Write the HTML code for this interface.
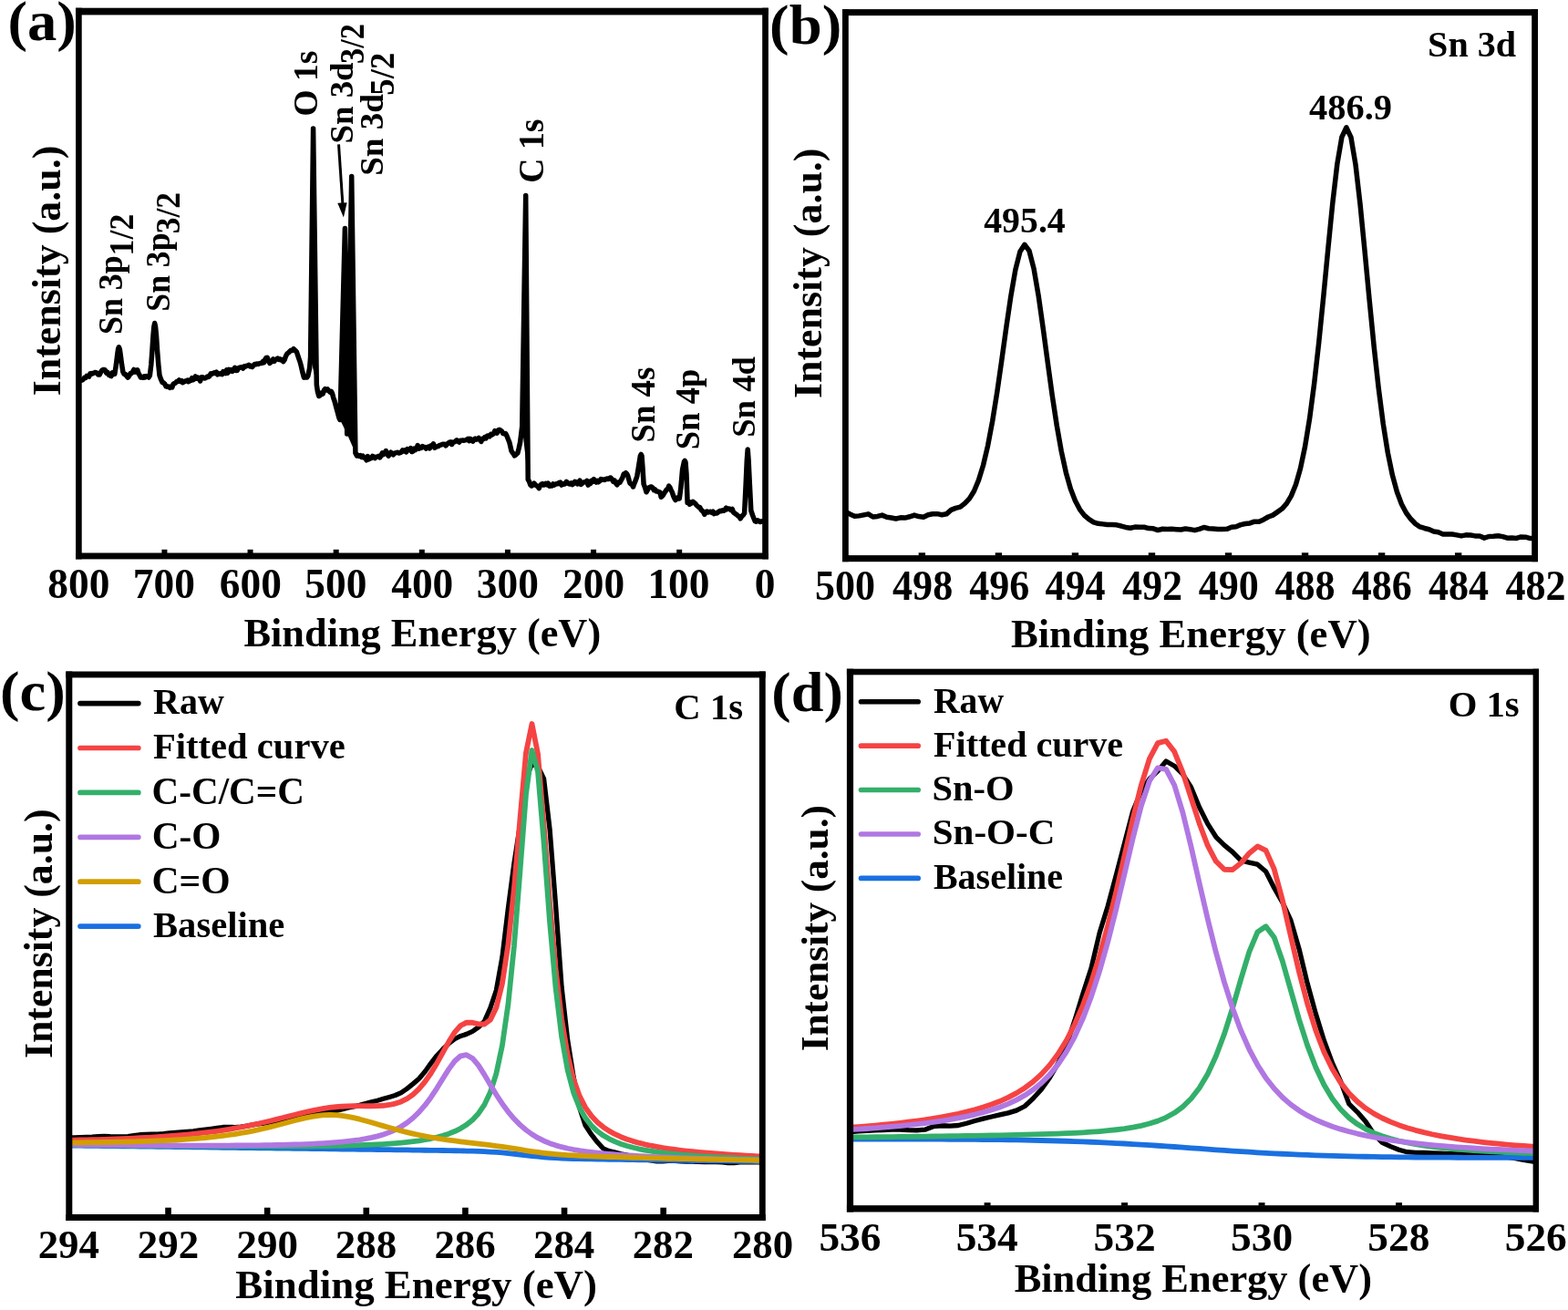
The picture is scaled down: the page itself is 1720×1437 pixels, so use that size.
<!DOCTYPE html><html><head><meta charset="utf-8"><title>XPS spectra</title><style>html,body{margin:0;padding:0;background:#fff;overflow:hidden}svg{display:block}</style></head><body><svg width="1720" height="1437" viewBox="0 0 1720 1437"><rect width="1720" height="1437" fill="#fff"/><path d="M89.5,417.1 L90.65,416.82 L91.8,415.46 L92.95,414.04 L94.1,414.5 L95.3,412.36 L96.5,412.57 L97.7,413.04 L98.9,409.93 L100.1,409.5 L101.25,409.88 L102.4,409.43 L103.55,408.82 L104.7,408.4 L106.2,409.23 L107.7,411 L109.2,411 L110.7,408.05 L112.2,405.8 L113.7,405.41 L115.2,405.89 L116.7,409.2 L118.03,408.5 L119.35,411.23 L120.67,411.94 L122,412.6 L123.27,408.72 L124.53,410.4 L125.8,410.3 L127.4,400 L128.6,390 L129.6,383 L130.4,380.8 L131.3,383 L132.3,390 L133.6,400 L134.9,408 L136.22,410.42 L137.55,410.46 L138.88,412.46 L140.2,414.1 L141.52,412.64 L142.85,409.81 L144.18,409.6 L145.5,408 L146.82,405.45 L148.15,408.01 L149.48,406.5 L150.8,405.8 L152.03,409.76 L153.27,411.79 L154.5,414.1 L155.72,413.9 L156.94,414.27 L158.16,412.95 L159.38,413.81 L160.6,412.6 L161.87,413.22 L163.13,413.99 L164.4,411.8 L165.8,400 L166.9,385 L168,368 L168.9,358 L169.7,354.5 L170.5,358 L171.5,368 L172.6,385 L173.8,400 L175,411.8 L176.5,415.94 L178,419.4 L179.38,419.85 L180.77,421.28 L182.15,423.9 L183.53,424.22 L184.92,424.01 L186.3,425.4 L187.55,423.99 L188.8,424.84 L190.05,421.52 L191.3,420.53 L192.55,420.13 L193.8,418.6 L195.12,418.25 L196.45,416.92 L197.78,418.32 L199.1,417.65 L200.43,419.74 L201.75,418.96 L203.08,417.95 L204.4,417.9 L205.64,417.15 L206.89,418.7 L208.13,416.99 L209.37,417.48 L210.61,414.68 L211.86,416.56 L213.1,415.8 L214.41,412.89 L215.72,415.05 L217.03,414.08 L218.34,415.34 L219.65,417.97 L220.96,413.66 L222.27,413.77 L223.58,414.72 L224.89,414.93 L226.2,414.1 L227.44,413.09 L228.69,413.45 L229.93,412.47 L231.17,409.79 L232.41,410.22 L233.66,409.6 L234.9,408.8 L236.14,409.4 L237.39,408.17 L238.63,410.87 L239.87,410.09 L241.11,410.21 L242.36,409.55 L243.6,410.6 L244.84,407.51 L246.09,408.13 L247.33,409.57 L248.57,405.84 L249.81,409.2 L251.06,405.33 L252.3,407.1 L253.61,405.55 L254.92,407.24 L256.23,405.95 L257.54,403.32 L258.85,406.54 L260.16,406.35 L261.47,403.93 L262.78,403.22 L264.09,402.93 L265.4,402.7 L266.64,404.07 L267.89,401.74 L269.13,402.29 L270.37,401.17 L271.61,401.29 L272.86,400.29 L274.1,401.9 L275.41,401.35 L276.72,402.48 L278.03,400.87 L279.34,399.58 L280.65,399.72 L281.96,399.06 L283.27,399.46 L284.58,398.6 L285.89,398.35 L287.2,398.4 L288.42,396.31 L289.64,397.75 L290.86,394.02 L292.08,392.38 L293.3,392.3 L294.6,396.15 L295.9,398.4 L297.14,397.39 L298.39,396.1 L299.63,393.95 L300.87,396.28 L302.11,394.59 L303.36,393.95 L304.6,393.1 L305.82,394.37 L307.04,393.83 L308.26,395.02 L309.48,394.52 L310.7,396.6 L312.17,394.61 L313.63,390.45 L315.1,387.9 L316.5,386.82 L317.9,385.3 L319.3,384.18 L320.7,384.49 L322.1,382.7 L323.23,383.71 L324.37,385.06 L325.5,386.2 L326.67,389.95 L327.83,393.29 L329,396.6 L330.47,402.06 L331.93,408.53 L333.4,414.1 L334.5,413.86 L335.6,414 L336.7,414.07 L337.8,412.3 L339.6,404 L340.6,391.7 L343.6,141 L347.3,422 L348.5,430 L349.8,434.5 L351.4,433.66 L353,431 L354.23,432.05 L355.45,428.04 L356.67,426.6 L357.9,427.9 L359.27,426.9 L360.65,428.58 L362.02,430.07 L363.4,429.3 L364.6,431.98 L365.8,436.54 L367,440 L368.2,444.43 L369.4,449.01 L370.6,453.24 L371.8,458 L373,460.5 L373,460.5 L378.4,250.5 L380.7,476 L385.7,193.5 L389.9,497 L391.5,500 L392.75,499.37 L394,500.5 L395.33,499.58 L396.67,501.29 L398,500.25 L399.33,502.04 L400.67,502.29 L402,504.81 L403.33,500.51 L404.67,503.82 L406,502.9 L407.33,502.56 L408.67,500.33 L410,501.32 L411.33,502.6 L412.67,501.18 L414,501.07 L415.33,500.26 L416.67,501.86 L418,500 L419.34,496.78 L420.69,498.52 L422.03,496.54 L423.38,494.55 L424.72,497.9 L426.07,500.11 L427.41,498.12 L428.76,496.21 L430.1,497.5 L431.39,498.76 L432.68,497.21 L433.97,496.81 L435.26,496.43 L436.55,496.3 L437.84,497.08 L439.13,496.49 L440.42,495.79 L441.71,493.86 L443,495 L444.26,493.83 L445.53,495.95 L446.79,492.54 L448.05,493.8 L449.32,493.72 L450.58,491.7 L451.85,495.52 L453.11,494.92 L454.37,492.09 L455.64,493.49 L456.9,492.2 L458.21,488.48 L459.52,492.1 L460.83,491.46 L462.14,491.43 L463.45,489.66 L464.76,490.52 L466.07,490.42 L467.38,492.03 L468.69,490.67 L470,490 L471.36,491.86 L472.72,488.87 L474.08,488.91 L475.44,486.8 L476.8,491.16 L478.16,490.16 L479.52,489.9 L480.88,489.38 L482.24,488.44 L483.6,488.1 L484.94,487.45 L486.28,487.21 L487.62,487.24 L488.96,488.87 L490.3,487.29 L491.64,486.16 L492.98,485.16 L494.32,484.77 L495.66,487.45 L497,485 L498.34,484.87 L499.68,484.1 L501.02,482.85 L502.36,484.03 L503.7,485.07 L505.04,483.15 L506.38,483.16 L507.72,482.94 L509.06,483.17 L510.4,482.8 L511.77,482.37 L513.14,481.42 L514.51,483.65 L515.89,481.3 L517.26,483.01 L518.63,484.17 L520,482 L521.3,481.13 L522.6,482.13 L523.9,481.81 L525.2,480.41 L526.5,482.31 L527.8,484.34 L529.1,481.21 L530.4,481.5 L531.74,479.6 L533.08,480.83 L534.42,478.26 L535.76,477.9 L537.1,478.8 L538.52,476.32 L539.95,476.88 L541.38,475.82 L542.8,472.7 L544.04,473.3 L545.28,475.05 L546.52,472.02 L547.76,471.34 L549,472 L550.4,472.93 L551.8,475.57 L553.2,475.81 L554.6,475.5 L556,478.24 L557.4,481.67 L558.8,485.2 L559.85,489.7 L560.9,494.3 L562.07,496.38 L563.23,497.72 L564.4,499.8 L565.53,499.14 L566.67,497.9 L567.8,497.1 L569.2,491.61 L570.6,485.2 L571.65,476.5 L572.7,467.8 L576.7,214.5 L579.2,526 L580.5,528.12 L581.8,531.9 L583.18,533.03 L584.56,532.06 L585.94,530.14 L587.32,532.12 L588.7,532.8 L589.96,533.55 L591.21,535.62 L592.47,532.76 L593.72,531.31 L594.98,530.67 L596.23,532.06 L597.49,531.78 L598.74,530.36 L600,531.8 L601.33,530.18 L602.67,533.17 L604,533.03 L605.33,533 L606.67,530.83 L608,532.09 L609.33,531.16 L610.67,530.74 L612,530.74 L613.33,529.38 L614.67,529.12 L616,532.07 L617.33,530.68 L618.67,531.16 L620,530.8 L621.33,528.36 L622.67,529.54 L624,530.74 L625.33,530.93 L626.67,529.79 L628,531.59 L629.33,530.38 L630.67,528.36 L632,528.65 L633.33,530.89 L634.67,530.33 L636,527.04 L637.33,531.32 L638.67,530.21 L640,529.3 L641.27,528.63 L642.53,528.6 L643.8,527.33 L645.07,532.11 L646.33,528.31 L647.6,530.54 L648.87,527.38 L650.13,528.32 L651.4,525.7 L652.67,527.28 L653.93,528.97 L655.2,527.5 L656.53,528.78 L657.87,527.62 L659.2,525.6 L660.53,526.16 L661.87,526.05 L663.2,526.43 L664.53,525.61 L665.87,525.05 L667.2,525.59 L668.53,524.45 L669.87,523.93 L671.2,525.5 L672.65,528 L674.1,527.06 L675.55,530.23 L677,531.8 L678.47,529.11 L679.93,529.26 L681.4,526.7 L682.8,524.18 L684.2,520 L685.35,519.83 L686.5,518.7 L687.6,519.7 L688.7,522 L689.75,525.75 L690.8,529.6 L692.03,531.02 L693.27,531.45 L694.5,534 L695.93,530.12 L697.37,526.65 L698.8,522.3 L699.8,516.14 L700.8,510 L702.4,500 L703.2,498.5 L704,500 L704.9,512 L706.1,531 L707.55,534.78 L709,539.8 L710.47,537.17 L711.93,534.87 L713.4,534 L714.72,534.05 L716.04,535.15 L717.36,537.69 L718.68,537.11 L720,539 L721.3,538.88 L722.6,539.62 L723.9,539.91 L725.2,545.26 L726.5,544.1 L727.7,542.49 L728.9,540.44 L730.1,538.79 L731.3,536.88 L732.5,536.65 L733.7,533.2 L734.92,534.75 L736.13,537.65 L737.35,539.99 L738.57,543.88 L739.78,546.48 L741,548.5 L742.43,546.18 L743.87,547.04 L745.3,547 L746.8,535.4 L748.6,515 L750.4,506.5 L751.2,505.5 L752,507 L753,520 L754.1,551.4 L755.3,550.08 L756.5,553.27 L757.7,552.51 L758.9,550.86 L760.1,550.23 L761.3,551.4 L762.57,552.25 L763.85,553.92 L765.12,555.13 L766.4,556.4 L767.67,556.56 L768.95,558.98 L770.23,560.28 L771.5,561.6 L772.82,564.24 L774.14,561.67 L775.45,560.95 L776.77,562.02 L778.09,561.42 L779.41,561.36 L780.73,562.41 L782.05,561.21 L783.36,563.56 L784.68,562.73 L786,563 L787.31,562.26 L788.62,561.05 L789.93,560.27 L791.24,560.69 L792.55,559.79 L793.86,560.3 L795.17,559.49 L796.48,557.23 L797.79,558.59 L799.1,558 L800.48,558.26 L801.86,559.65 L803.24,558.52 L804.62,562.11 L806,563 L807.24,563.98 L808.48,564.85 L809.72,566.07 L810.96,566.56 L812.2,568.8 L813.67,566.35 L815.13,565.02 L816.6,563 L818.2,530 L819.3,505 L820.2,493 L821.1,505 L822.3,530 L823.8,560 L825.5,565 L826.85,568.48 L828.2,571.7 L829.53,572.22 L830.87,570.82 L832.2,571.35 L833.53,572.56 L834.87,572.28 L836.2,571.7" fill="none" stroke="#000" stroke-width="5.5" stroke-linejoin="round" stroke-linecap="round"/><polygon points="340.6,391.7 343.6,141 347.3,422" fill="#000"/><polygon points="373,460.5 378.4,250.5 380.7,476" fill="#000"/><polygon points="380.7,476 385.7,193.5 389.9,497" fill="#000"/><polygon points="572.7,467.8 576.7,214.5 579.2,526" fill="#000"/><line x1="371.5" y1="158.4" x2="375.9" y2="224" stroke="#000" stroke-width="3"/><polygon points="370.3,222.8 380.6,222.2 376.9,238.6" fill="#000"/><path d="M930.5,562.87 L932.34,564 L937.38,566.34 L942.43,565.88 L947.47,564.83 L952.51,563.84 L957.55,567.02 L962.6,566.43 L967.64,565.12 L972.68,567.23 L977.72,567.98 L982.77,569.04 L987.81,567.82 L992.85,568.09 L997.89,566.78 L1002.94,565.08 L1007.98,566.58 L1013.02,567.31 L1018.06,564.81 L1023.11,563.74 L1028.15,563.67 L1033.19,564.7 L1038.23,563.83 L1043.28,559.38 L1048.32,557.33 L1053.36,556.15 L1058.4,552.16 L1063.44,546.92 L1068.49,538.69 L1073.53,526.67 L1078.57,510.25 L1083.61,488.76 L1088.66,462.06 L1093.7,430.63 L1098.74,395.68 L1103.78,359.44 L1108.83,324.96 L1113.87,295.85 L1118.91,276.07 L1123.95,268.38 L1129,275.22 L1134.04,294.62 L1139.08,323.95 L1144.12,359.29 L1149.17,396.89 L1154.21,433.51 L1159.25,466.77 L1164.29,495.25 L1169.34,518.4 L1174.38,536.32 L1179.42,549.24 L1184.46,558.82 L1189.5,565.35 L1194.55,569.64 L1199.59,572.82 L1204.63,574.31 L1209.67,574.89 L1214.72,575.48 L1219.76,575.58 L1224.8,575.82 L1229.84,577.04 L1234.89,578.44 L1239.93,579.23 L1244.97,578.09 L1250.01,578.14 L1255.06,578.23 L1260.1,579.54 L1265.14,579.79 L1270.18,581.61 L1275.23,580.25 L1280.27,580.52 L1285.31,580.34 L1290.35,580.68 L1295.4,581.06 L1300.44,580.01 L1305.48,580.67 L1310.52,581.66 L1315.56,580.39 L1320.61,578.46 L1325.65,579.76 L1330.69,580.03 L1335.73,580.56 L1340.78,580.51 L1345.82,580.37 L1350.86,578.27 L1355.9,577.69 L1360.95,575.59 L1365.99,574.54 L1371.03,573.93 L1376.07,572.15 L1381.12,572.31 L1386.16,569.94 L1391.2,567 L1396.24,565.13 L1401.29,561.62 L1406.33,558.07 L1411.37,552.33 L1416.41,543.88 L1421.46,531.42 L1426.5,513.75 L1431.54,489.89 L1436.58,459.05 L1441.62,420.93 L1446.67,376.04 L1451.71,325.92 L1456.75,273.47 L1461.79,222.95 L1466.84,179.87 L1471.88,150.42 L1476.92,139.8 L1481.96,150.71 L1487.01,180.62 L1492.05,224.34 L1497.09,275.69 L1502.13,329.05 L1507.18,380.11 L1512.22,425.94 L1517.26,464.94 L1522.3,496.52 L1527.35,521.08 L1532.39,539.43 L1537.43,552.98 L1542.47,562.5 L1547.52,569.29 L1552.56,574.48 L1557.6,577.92 L1562.64,579.46 L1567.68,580.72 L1572.73,583.03 L1577.77,583.82 L1582.81,585.92 L1587.85,585.91 L1592.9,586.05 L1597.94,586.88 L1602.98,587.88 L1608.02,586.85 L1613.07,586.93 L1618.11,587.91 L1623.15,587.9 L1628.19,590.12 L1633.24,588.5 L1638.28,588.24 L1643.32,587.77 L1648.36,588.66 L1653.41,590.22 L1658.45,589.99 L1663.49,590.42 L1668.53,588.9 L1673.58,589.18 L1678.62,590.56 L1680.6,590.42" fill="none" stroke="#000" stroke-width="5.5" stroke-linejoin="round" stroke-linecap="round"/><path d="M79.5,1247.88 L81.63,1247.97 L88.15,1247.69 L94.66,1247.31 L101.18,1247.05 L107.7,1246.54 L114.22,1246.28 L120.74,1246.68 L127.25,1246.82 L133.77,1246.84 L140.29,1246.71 L146.81,1245.73 L153.33,1244.76 L159.84,1244.42 L166.36,1244.24 L172.88,1244.12 L179.4,1243.64 L185.91,1242.93 L192.43,1242.45 L198.95,1241.87 L205.47,1241.39 L211.99,1240.78 L218.5,1239.95 L225.02,1239.17 L231.54,1238.3 L238.06,1237.31 L244.57,1236.51 L251.09,1236.42 L257.61,1236.54 L264.13,1236.05 L270.65,1235.05 L277.16,1233.78 L283.68,1232.75 L290.2,1232.03 L296.72,1230.9 L303.23,1229.58 L309.75,1228.46 L316.27,1227.33 L322.79,1226.14 L329.31,1224.87 L335.82,1223.62 L342.34,1222.95 L348.86,1222.37 L355.38,1220.91 L361.89,1219.45 L368.41,1218.43 L374.93,1217.01 L381.45,1215.23 L387.97,1213.79 L394.48,1212.4 L401,1210.54 L407.52,1208.79 L414.04,1207.2 L420.55,1205.32 L427.07,1203.42 L433.59,1201.51 L440.11,1198.59 L446.63,1194.06 L453.14,1188.88 L459.66,1183.29 L466.18,1175.58 L472.7,1166.41 L479.22,1157.96 L485.73,1150.97 L492.25,1144.77 L498.77,1139.75 L505.29,1136.48 L511.8,1134.39 L518.32,1131.33 L524.84,1126.75 L531.36,1120.34 L537.88,1105.61 L544.39,1086.25 L550.91,1050.04 L557.43,996.08 L563.95,946.95 L570.46,905.25 L576.98,853.93 L583.5,837.97 L590.02,840.65 L596.54,854.05 L603.05,909.58 L609.57,992.87 L616.09,1082.86 L622.61,1140.44 L629.12,1181.34 L635.64,1214.91 L642.16,1234.57 L648.68,1244.43 L655.2,1252.76 L661.71,1259.84 L668.23,1262.62 L674.75,1264.18 L681.27,1265.76 L687.78,1267.11 L694.3,1268.7 L700.82,1270.47 L707.34,1271.77 L713.86,1272.88 L720.37,1273.81 L726.89,1273.79 L733.41,1273.26 L739.93,1273.28 L746.44,1273.81 L752.96,1274.11 L759.48,1274.19 L766,1274.34 L772.52,1274.51 L779.03,1274.65 L785.55,1274.62 L792.07,1274.85 L798.59,1275.55 L805.11,1275.68 L811.62,1274.96 L818.14,1274.56 L824.66,1274.79 L831.18,1274.94 L832.6,1274.77" fill="none" stroke="#000" stroke-width="5.3" stroke-linejoin="round" stroke-linecap="round"/><path d="M79.5,1250.7 L81.63,1250.66 L88.15,1250.52 L94.66,1250.37 L101.18,1250.21 L107.7,1250.03 L114.22,1249.84 L120.74,1249.63 L127.25,1249.4 L133.77,1249.15 L140.29,1248.88 L146.81,1248.59 L153.33,1248.27 L159.84,1247.93 L166.36,1247.56 L172.88,1247.16 L179.4,1246.72 L185.91,1246.25 L192.43,1245.73 L198.95,1245.18 L205.47,1244.58 L211.99,1243.93 L218.5,1243.23 L225.02,1242.47 L231.54,1241.65 L238.06,1240.77 L244.57,1239.81 L251.09,1238.79 L257.61,1237.69 L264.13,1236.51 L270.65,1235.26 L277.16,1233.92 L283.68,1232.51 L290.2,1231.03 L296.72,1229.49 L303.23,1227.89 L309.75,1226.25 L316.27,1224.6 L322.79,1222.95 L329.31,1221.34 L335.82,1219.8 L342.34,1218.36 L348.86,1217.06 L355.38,1215.93 L361.89,1214.99 L368.41,1214.25 L374.93,1213.73 L381.45,1213.4 L387.97,1213.23 L394.48,1213.2 L401,1213.23 L407.52,1213.24 L414.04,1213.13 L420.55,1212.76 L427.07,1211.98 L433.59,1210.6 L440.11,1208.38 L446.63,1205.1 L453.14,1200.51 L459.66,1194.41 L466.18,1186.66 L472.7,1177.26 L479.22,1166.4 L485.73,1154.59 L492.25,1142.78 L498.77,1132.39 L505.29,1125.03 L511.8,1121.65 L518.32,1121.77 L524.84,1123.37 L531.36,1123.51 L537.88,1118.76 L544.39,1105.34 L550.91,1079.1 L557.43,1036.16 L563.95,974.48 L570.46,898.15 L576.98,825.87 L583.5,794.02 L590.02,827.02 L596.54,904.68 L603.05,990.09 L609.57,1062.8 L616.09,1117.86 L622.61,1156.98 L629.12,1183.84 L635.64,1202.14 L642.16,1214.85 L648.68,1224.02 L655.2,1230.93 L661.71,1236.32 L668.23,1240.66 L674.75,1244.22 L681.27,1247.19 L687.78,1249.7 L694.3,1251.84 L700.82,1253.69 L707.34,1255.3 L713.86,1256.72 L720.37,1257.97 L726.89,1259.09 L733.41,1260.09 L739.93,1260.99 L746.44,1261.81 L752.96,1262.56 L759.48,1263.24 L766,1263.87 L772.52,1264.46 L779.03,1265 L785.55,1265.5 L792.07,1265.97 L798.59,1266.42 L805.11,1266.83 L811.62,1267.22 L818.14,1267.59 L824.66,1267.94 L831.18,1268.28 L832.6,1268.35" fill="none" stroke="#F54343" stroke-width="5.8" stroke-linejoin="round" stroke-linecap="round"/><path d="M79.5,1256.52 L81.63,1256.55 L88.15,1256.64 L94.66,1256.73 L101.18,1256.81 L107.7,1256.9 L114.22,1256.99 L120.74,1257.08 L127.25,1257.16 L133.77,1257.25 L140.29,1257.34 L146.81,1257.42 L153.33,1257.51 L159.84,1257.6 L166.36,1257.69 L172.88,1257.77 L179.4,1257.86 L185.91,1257.95 L192.43,1258.04 L198.95,1258.12 L205.47,1258.21 L211.99,1258.3 L218.5,1258.39 L225.02,1258.47 L231.54,1258.56 L238.06,1258.65 L244.57,1258.74 L251.09,1258.82 L257.61,1258.91 L264.13,1259 L270.65,1259.09 L277.16,1259.17 L283.68,1259.26 L290.2,1259.35 L296.72,1259.44 L303.23,1259.52 L309.75,1259.61 L316.27,1259.7 L322.79,1259.79 L329.31,1259.87 L335.82,1259.96 L342.34,1260.05 L348.86,1260.14 L355.38,1260.22 L361.89,1260.31 L368.41,1260.4 L374.93,1260.49 L381.45,1260.57 L387.97,1260.66 L394.48,1260.75 L401,1260.84 L407.52,1260.92 L414.04,1261.01 L420.55,1261.1 L427.07,1261.19 L433.59,1261.28 L440.11,1261.36 L446.63,1261.45 L453.14,1261.54 L459.66,1261.63 L466.18,1261.73 L472.7,1261.82 L479.22,1261.92 L485.73,1262.02 L492.25,1262.13 L498.77,1262.25 L505.29,1262.39 L511.8,1262.54 L518.32,1262.72 L524.84,1262.94 L531.36,1263.21 L537.88,1263.54 L544.39,1263.95 L550.91,1264.46 L557.43,1265.06 L563.95,1265.75 L570.46,1266.5 L576.98,1267.27 L583.5,1268.01 L590.02,1268.69 L596.54,1269.28 L603.05,1269.78 L609.57,1270.18 L616.09,1270.51 L622.61,1270.77 L629.12,1270.99 L635.64,1271.16 L642.16,1271.31 L648.68,1271.45 L655.2,1271.56 L661.71,1271.67 L668.23,1271.78 L674.75,1271.87 L681.27,1271.97 L687.78,1272.06 L694.3,1272.15 L700.82,1272.24 L707.34,1272.33 L713.86,1272.42 L720.37,1272.51 L726.89,1272.6 L733.41,1272.68 L739.93,1272.77 L746.44,1272.86 L752.96,1272.95 L759.48,1273.03 L766,1273.12 L772.52,1273.21 L779.03,1273.3 L785.55,1273.38 L792.07,1273.47 L798.59,1273.56 L805.11,1273.65 L811.62,1273.73 L818.14,1273.82 L824.66,1273.91 L831.18,1274 L832.6,1274.02" fill="none" stroke="#1A70E0" stroke-width="5.8" stroke-linejoin="round" stroke-linecap="round"/><path d="M79.5,1255.87 L81.63,1255.89 L88.15,1255.96 L94.66,1256.03 L101.18,1256.1 L107.7,1256.17 L114.22,1256.24 L120.74,1256.3 L127.25,1256.37 L133.77,1256.43 L140.29,1256.5 L146.81,1256.56 L153.33,1256.62 L159.84,1256.68 L166.36,1256.74 L172.88,1256.8 L179.4,1256.85 L185.91,1256.91 L192.43,1256.96 L198.95,1257.01 L205.47,1257.06 L211.99,1257.11 L218.5,1257.15 L225.02,1257.19 L231.54,1257.23 L238.06,1257.27 L244.57,1257.3 L251.09,1257.34 L257.61,1257.36 L264.13,1257.39 L270.65,1257.41 L277.16,1257.42 L283.68,1257.44 L290.2,1257.44 L296.72,1257.44 L303.23,1257.44 L309.75,1257.42 L316.27,1257.41 L322.79,1257.38 L329.31,1257.34 L335.82,1257.3 L342.34,1257.24 L348.86,1257.17 L355.38,1257.09 L361.89,1256.99 L368.41,1256.88 L374.93,1256.75 L381.45,1256.59 L387.97,1256.41 L394.48,1256.21 L401,1255.97 L407.52,1255.7 L414.04,1255.39 L420.55,1255.03 L427.07,1254.62 L433.59,1254.14 L440.11,1253.58 L446.63,1252.94 L453.14,1252.18 L459.66,1251.3 L466.18,1250.26 L472.7,1249.04 L479.22,1247.57 L485.73,1245.81 L492.25,1243.67 L498.77,1241.05 L505.29,1237.8 L511.8,1233.71 L518.32,1228.45 L524.84,1221.47 L531.36,1211.88 L537.88,1198.09 L544.39,1177.62 L550.91,1146.87 L557.43,1101.47 L563.95,1037.59 L570.46,955.86 L576.98,871.29 L583.5,823.01 L590.02,846.57 L596.54,924.1 L603.05,1011.24 L609.57,1083.76 L616.09,1136.99 L622.61,1173.72 L629.12,1198.38 L635.64,1214.95 L642.16,1226.39 L648.68,1234.62 L655.2,1240.78 L661.71,1245.55 L668.23,1249.34 L674.75,1252.41 L681.27,1254.93 L687.78,1257.02 L694.3,1258.79 L700.82,1260.29 L707.34,1261.58 L713.86,1262.7 L720.37,1263.68 L726.89,1264.54 L733.41,1265.3 L739.93,1265.99 L746.44,1266.6 L752.96,1267.16 L759.48,1267.66 L766,1268.12 L772.52,1268.55 L779.03,1268.94 L785.55,1269.3 L792.07,1269.64 L798.59,1269.95 L805.11,1270.25 L811.62,1270.53 L818.14,1270.79 L824.66,1271.04 L831.18,1271.28 L832.6,1271.33" fill="none" stroke="#33AF6A" stroke-width="5.8" stroke-linejoin="round" stroke-linecap="round"/><path d="M79.5,1255.68 L81.63,1255.7 L88.15,1255.76 L94.66,1255.82 L101.18,1255.88 L107.7,1255.94 L114.22,1256 L120.74,1256.05 L127.25,1256.1 L133.77,1256.15 L140.29,1256.2 L146.81,1256.25 L153.33,1256.29 L159.84,1256.34 L166.36,1256.38 L172.88,1256.41 L179.4,1256.45 L185.91,1256.48 L192.43,1256.51 L198.95,1256.53 L205.47,1256.55 L211.99,1256.57 L218.5,1256.58 L225.02,1256.58 L231.54,1256.58 L238.06,1256.58 L244.57,1256.56 L251.09,1256.54 L257.61,1256.51 L264.13,1256.48 L270.65,1256.43 L277.16,1256.37 L283.68,1256.3 L290.2,1256.21 L296.72,1256.11 L303.23,1256 L309.75,1255.86 L316.27,1255.7 L322.79,1255.52 L329.31,1255.31 L335.82,1255.07 L342.34,1254.79 L348.86,1254.47 L355.38,1254.11 L361.89,1253.68 L368.41,1253.19 L374.93,1252.63 L381.45,1251.97 L387.97,1251.2 L394.48,1250.29 L401,1249.21 L407.52,1247.92 L414.04,1246.36 L420.55,1244.46 L427.07,1242.14 L433.59,1239.28 L440.11,1235.78 L446.63,1231.48 L453.14,1226.25 L459.66,1219.94 L466.18,1212.43 L472.7,1203.69 L479.22,1193.84 L485.73,1183.28 L492.25,1172.87 L498.77,1163.98 L505.29,1158.28 L511.8,1157.14 L518.32,1160.9 L524.84,1168.68 L531.36,1178.88 L537.88,1189.95 L544.39,1200.76 L550.91,1210.71 L557.43,1219.56 L563.95,1227.26 L570.46,1233.88 L576.98,1239.51 L583.5,1244.24 L590.02,1248.18 L596.54,1251.45 L603.05,1254.14 L609.57,1256.35 L616.09,1258.19 L622.61,1259.73 L629.12,1261.02 L635.64,1262.13 L642.16,1263.08 L648.68,1263.91 L655.2,1264.64 L661.71,1265.3 L668.23,1265.88 L674.75,1266.41 L681.27,1266.89 L687.78,1267.33 L694.3,1267.74 L700.82,1268.11 L707.34,1268.46 L713.86,1268.78 L720.37,1269.08 L726.89,1269.36 L733.41,1269.63 L739.93,1269.89 L746.44,1270.13 L752.96,1270.35 L759.48,1270.57 L766,1270.78 L772.52,1270.98 L779.03,1271.17 L785.55,1271.36 L792.07,1271.53 L798.59,1271.71 L805.11,1271.87 L811.62,1272.04 L818.14,1272.19 L824.66,1272.35 L831.18,1272.49 L832.6,1272.53" fill="none" stroke="#B077E2" stroke-width="5.8" stroke-linejoin="round" stroke-linecap="round"/><path d="M79.5,1253.37 L81.63,1253.36 L88.15,1253.3 L94.66,1253.24 L101.18,1253.17 L107.7,1253.09 L114.22,1253 L120.74,1252.89 L127.25,1252.77 L133.77,1252.64 L140.29,1252.49 L146.81,1252.32 L153.33,1252.14 L159.84,1251.93 L166.36,1251.69 L172.88,1251.44 L179.4,1251.15 L185.91,1250.83 L192.43,1250.48 L198.95,1250.08 L205.47,1249.65 L211.99,1249.17 L218.5,1248.64 L225.02,1248.05 L231.54,1247.39 L238.06,1246.67 L244.57,1245.88 L251.09,1245 L257.61,1244.03 L264.13,1242.97 L270.65,1241.81 L277.16,1240.54 L283.68,1239.16 L290.2,1237.68 L296.72,1236.11 L303.23,1234.45 L309.75,1232.73 L316.27,1230.99 L322.79,1229.27 L329.31,1227.62 L335.82,1226.12 L342.34,1224.84 L348.86,1223.86 L355.38,1223.22 L361.89,1223 L368.41,1223.19 L374.93,1223.8 L381.45,1224.79 L387.97,1226.11 L394.48,1227.68 L401,1229.44 L407.52,1231.31 L414.04,1233.22 L420.55,1235.13 L427.07,1237 L433.59,1238.79 L440.11,1240.5 L446.63,1242.1 L453.14,1243.6 L459.66,1244.99 L466.18,1246.29 L472.7,1247.48 L479.22,1248.59 L485.73,1249.62 L492.25,1250.57 L498.77,1251.47 L505.29,1252.31 L511.8,1253.11 L518.32,1253.88 L524.84,1254.64 L531.36,1255.41 L537.88,1256.21 L544.39,1257.04 L550.91,1257.94 L557.43,1258.9 L563.95,1259.92 L570.46,1260.98 L576.98,1262.03 L583.5,1263.04 L590.02,1263.97 L596.54,1264.79 L603.05,1265.5 L609.57,1266.1 L616.09,1266.61 L622.61,1267.05 L629.12,1267.43 L635.64,1267.76 L642.16,1268.05 L648.68,1268.32 L655.2,1268.56 L661.71,1268.79 L668.23,1269.01 L674.75,1269.21 L681.27,1269.41 L687.78,1269.6 L694.3,1269.78 L700.82,1269.95 L707.34,1270.12 L713.86,1270.29 L720.37,1270.45 L726.89,1270.61 L733.41,1270.76 L739.93,1270.91 L746.44,1271.06 L752.96,1271.2 L759.48,1271.34 L766,1271.48 L772.52,1271.62 L779.03,1271.76 L785.55,1271.89 L792.07,1272.02 L798.59,1272.15 L805.11,1272.28 L811.62,1272.4 L818.14,1272.52 L824.66,1272.65 L831.18,1272.77 L832.6,1272.79" fill="none" stroke="#D29E00" stroke-width="5.8" stroke-linejoin="round" stroke-linecap="round"/><path d="M936,1241.32 L941.68,1240.96 L950.8,1240.33 L959.92,1239.91 L969.04,1239.55 L978.16,1239.05 L987.28,1239.09 L996.4,1239.58 L1005.52,1239.85 L1014.64,1239.21 L1023.76,1235.69 L1032.88,1234.76 L1042,1235.1 L1051.12,1234.5 L1060.24,1232.23 L1069.36,1229.51 L1078.48,1227.1 L1087.6,1225.01 L1096.72,1222.93 L1105.84,1220.85 L1114.96,1218.15 L1124.08,1213.51 L1133.2,1205 L1142.32,1194.95 L1151.44,1182.27 L1160.56,1166.57 L1169.68,1146.84 L1178.8,1119.68 L1187.92,1090.13 L1197.04,1061.77 L1206.16,1023.24 L1215.28,993.68 L1224.4,959.78 L1233.52,924.84 L1242.64,889.9 L1251.76,867.96 L1260.88,854.49 L1270,845.92 L1279.12,835.06 L1288.24,840.21 L1297.36,849.21 L1306.48,863.39 L1315.6,885.56 L1324.72,903.59 L1333.84,918.01 L1342.96,927.15 L1352.08,934.61 L1361.2,943.91 L1370.32,946.1 L1379.44,948.16 L1388.56,955.93 L1397.68,973.97 L1406.8,989.81 L1415.92,1009.67 L1425.04,1040.93 L1434.16,1078.76 L1443.28,1111.9 L1452.4,1141.47 L1461.52,1166.12 L1470.64,1186.25 L1479.76,1210.95 L1488.88,1219.85 L1498,1230.29 L1507.12,1244.07 L1516.24,1253.45 L1525.36,1257.61 L1534.48,1261.2 L1543.6,1263.73 L1552.72,1264.44 L1561.84,1264.49 L1570.96,1264.81 L1580.08,1265.15 L1589.2,1265.59 L1598.32,1265.84 L1607.44,1265.8 L1616.56,1266.23 L1625.68,1266.95 L1634.8,1267.75 L1643.92,1268.4 L1653.04,1269.23 L1662.16,1270.75 L1671.28,1272.36 L1680.4,1273.85 L1681.7,1274.04" fill="none" stroke="#000" stroke-width="5.3" stroke-linejoin="round" stroke-linecap="round"/><path d="M936,1236.46 L941.68,1236.04 L950.8,1235.32 L959.92,1234.55 L969.04,1233.71 L978.16,1232.81 L987.28,1231.82 L996.4,1230.75 L1005.52,1229.59 L1014.64,1228.31 L1023.76,1226.91 L1032.88,1225.37 L1042,1223.66 L1051.12,1221.77 L1060.24,1219.66 L1069.36,1217.28 L1078.48,1214.6 L1087.6,1211.55 L1096.72,1208.03 L1105.84,1203.94 L1114.96,1199.14 L1124.08,1193.44 L1133.2,1186.61 L1142.32,1178.37 L1151.44,1168.37 L1160.56,1156.23 L1169.68,1141.51 L1178.8,1123.76 L1187.92,1102.54 L1197.04,1077.46 L1206.16,1048.27 L1215.28,1014.96 L1224.4,977.95 L1233.52,938.38 L1242.64,898.43 L1251.76,861.57 L1260.88,832.3 L1270,815.12 L1279.12,812.72 L1288.24,824.6 L1297.36,847.15 L1306.48,875.1 L1315.6,903.23 L1324.72,927.41 L1333.84,944.8 L1342.96,953.79 L1352.08,954.02 L1361.2,946.77 L1370.32,935.91 L1379.44,928.47 L1388.56,932.81 L1397.68,953.43 L1406.8,987.36 L1415.92,1027.17 L1425.04,1066.27 L1434.16,1101.03 L1443.28,1130.23 L1452.4,1153.95 L1461.52,1172.8 L1470.64,1187.61 L1479.76,1199.22 L1488.88,1208.37 L1498,1215.67 L1507.12,1221.6 L1516.24,1226.5 L1525.36,1230.62 L1534.48,1234.14 L1543.6,1237.19 L1552.72,1239.84 L1561.84,1242.18 L1570.96,1244.24 L1580.08,1246.08 L1589.2,1247.72 L1598.32,1249.19 L1607.44,1250.52 L1616.56,1251.72 L1625.68,1252.8 L1634.8,1253.79 L1643.92,1254.69 L1653.04,1255.52 L1662.16,1256.27 L1671.28,1256.97 L1680.4,1257.61 L1681.7,1257.69" fill="none" stroke="#F54343" stroke-width="5.8" stroke-linejoin="round" stroke-linecap="round"/><path d="M936,1249.52 L941.68,1249.52 L950.8,1249.52 L959.92,1249.52 L969.04,1249.53 L978.16,1249.54 L987.28,1249.55 L996.4,1249.56 L1005.52,1249.58 L1014.64,1249.61 L1023.76,1249.64 L1032.88,1249.68 L1042,1249.73 L1051.12,1249.78 L1060.24,1249.84 L1069.36,1249.91 L1078.48,1250 L1087.6,1250.09 L1096.72,1250.2 L1105.84,1250.33 L1114.96,1250.47 L1124.08,1250.63 L1133.2,1250.81 L1142.32,1251.01 L1151.44,1251.23 L1160.56,1251.48 L1169.68,1251.76 L1178.8,1252.06 L1187.92,1252.39 L1197.04,1252.75 L1206.16,1253.14 L1215.28,1253.57 L1224.4,1254.03 L1233.52,1254.51 L1242.64,1255.03 L1251.76,1255.58 L1260.88,1256.16 L1270,1256.75 L1279.12,1257.37 L1288.24,1258.01 L1297.36,1258.66 L1306.48,1259.32 L1315.6,1259.98 L1324.72,1260.63 L1333.84,1261.29 L1342.96,1261.92 L1352.08,1262.55 L1361.2,1263.15 L1370.32,1263.73 L1379.44,1264.28 L1388.56,1264.81 L1397.68,1265.3 L1406.8,1265.76 L1415.92,1266.19 L1425.04,1266.59 L1434.16,1266.96 L1443.28,1267.29 L1452.4,1267.6 L1461.52,1267.88 L1470.64,1268.13 L1479.76,1268.36 L1488.88,1268.56 L1498,1268.74 L1507.12,1268.91 L1516.24,1269.05 L1525.36,1269.18 L1534.48,1269.29 L1543.6,1269.39 L1552.72,1269.48 L1561.84,1269.55 L1570.96,1269.61 L1580.08,1269.67 L1589.2,1269.72 L1598.32,1269.76 L1607.44,1269.79 L1616.56,1269.81 L1625.68,1269.84 L1634.8,1269.85 L1643.92,1269.87 L1653.04,1269.87 L1662.16,1269.88 L1671.28,1269.88 L1680.4,1269.88 L1681.7,1269.88" fill="none" stroke="#1A70E0" stroke-width="5.8" stroke-linejoin="round" stroke-linecap="round"/><path d="M936,1247.47 L941.68,1247.42 L950.8,1247.33 L959.92,1247.24 L969.04,1247.14 L978.16,1247.05 L987.28,1246.94 L996.4,1246.84 L1005.52,1246.73 L1014.64,1246.61 L1023.76,1246.5 L1032.88,1246.37 L1042,1246.24 L1051.12,1246.11 L1060.24,1245.97 L1069.36,1245.82 L1078.48,1245.66 L1087.6,1245.5 L1096.72,1245.32 L1105.84,1245.13 L1114.96,1244.93 L1124.08,1244.71 L1133.2,1244.47 L1142.32,1244.21 L1151.44,1243.91 L1160.56,1243.59 L1169.68,1243.21 L1178.8,1242.79 L1187.92,1242.29 L1197.04,1241.72 L1206.16,1241.04 L1215.28,1240.23 L1224.4,1239.25 L1233.52,1238.07 L1242.64,1236.62 L1251.76,1234.82 L1260.88,1232.55 L1270,1229.63 L1279.12,1225.83 L1288.24,1220.82 L1297.36,1214.15 L1306.48,1205.27 L1315.6,1193.52 L1324.72,1178.18 L1333.84,1158.59 L1342.96,1134.32 L1352.08,1105.63 L1361.2,1074.16 L1370.32,1044.07 L1379.44,1022.33 L1388.56,1016.23 L1397.68,1028.33 L1406.8,1054.26 L1415.92,1086.35 L1425.04,1118.33 L1434.16,1146.86 L1443.28,1170.77 L1452.4,1190.06 L1461.52,1205.26 L1470.64,1217.04 L1479.76,1226.11 L1488.88,1233.11 L1498,1238.56 L1507.12,1242.85 L1516.24,1246.31 L1525.36,1249.13 L1534.48,1251.47 L1543.6,1253.45 L1552.72,1255.13 L1561.84,1256.57 L1570.96,1257.82 L1580.08,1258.91 L1589.2,1259.86 L1598.32,1260.7 L1607.44,1261.43 L1616.56,1262.09 L1625.68,1262.67 L1634.8,1263.19 L1643.92,1263.65 L1653.04,1264.07 L1662.16,1264.44 L1671.28,1264.78 L1680.4,1265.08 L1681.7,1265.12" fill="none" stroke="#33AF6A" stroke-width="5.8" stroke-linejoin="round" stroke-linecap="round"/><path d="M936,1238.95 L941.68,1238.59 L950.8,1237.99 L959.92,1237.34 L969.04,1236.63 L978.16,1235.87 L987.28,1235.03 L996.4,1234.13 L1005.52,1233.13 L1014.64,1232.05 L1023.76,1230.85 L1032.88,1229.53 L1042,1228.06 L1051.12,1226.43 L1060.24,1224.61 L1069.36,1222.55 L1078.48,1220.22 L1087.6,1217.56 L1096.72,1214.48 L1105.84,1210.89 L1114.96,1206.64 L1124.08,1201.57 L1133.2,1195.45 L1142.32,1187.99 L1151.44,1178.86 L1160.56,1167.66 L1169.68,1153.95 L1178.8,1137.27 L1187.92,1117.15 L1197.04,1093.2 L1206.16,1065.14 L1215.28,1032.95 L1224.4,997.04 L1233.52,958.57 L1242.64,919.76 L1251.76,884.23 L1260.88,856.78 L1270,842.29 L1279.12,843.86 L1288.24,861.26 L1297.36,891.11 L1306.48,928.43 L1315.6,968.54 L1324.72,1007.95 L1333.84,1044.58 L1342.96,1077.37 L1352.08,1105.97 L1361.2,1130.43 L1370.32,1151.04 L1379.44,1168.21 L1388.56,1182.41 L1397.68,1194.09 L1406.8,1203.69 L1415.92,1211.61 L1425.04,1218.17 L1434.16,1223.67 L1443.28,1228.3 L1452.4,1232.26 L1461.52,1235.68 L1470.64,1238.65 L1479.76,1241.25 L1488.88,1243.55 L1498,1245.6 L1507.12,1247.43 L1516.24,1249.06 L1525.36,1250.53 L1534.48,1251.86 L1543.6,1253.06 L1552.72,1254.15 L1561.84,1255.14 L1570.96,1256.03 L1580.08,1256.86 L1589.2,1257.61 L1598.32,1258.29 L1607.44,1258.92 L1616.56,1259.5 L1625.68,1260.04 L1634.8,1260.53 L1643.92,1260.98 L1653.04,1261.4 L1662.16,1261.79 L1671.28,1262.15 L1680.4,1262.49 L1681.7,1262.53" fill="none" stroke="#B077E2" stroke-width="5.8" stroke-linejoin="round" stroke-linecap="round"/><line x1="88" y1="771.6" x2="151.8" y2="771.6" stroke="#000" stroke-width="5.7" stroke-linecap="round"/><line x1="88" y1="820.5" x2="151.8" y2="820.5" stroke="#F54343" stroke-width="5.7" stroke-linecap="round"/><line x1="88" y1="869.4" x2="151.8" y2="869.4" stroke="#33AF6A" stroke-width="5.7" stroke-linecap="round"/><line x1="88" y1="918.3" x2="151.8" y2="918.3" stroke="#B077E2" stroke-width="5.7" stroke-linecap="round"/><line x1="88" y1="967.2" x2="151.8" y2="967.2" stroke="#D29E00" stroke-width="5.7" stroke-linecap="round"/><line x1="88" y1="1016.1" x2="151.8" y2="1016.1" stroke="#1A70E0" stroke-width="5.7" stroke-linecap="round"/><line x1="944.5" y1="769.7" x2="1007.2" y2="769.7" stroke="#000" stroke-width="5.6" stroke-linecap="round"/><line x1="944.5" y1="818.13" x2="1007.2" y2="818.13" stroke="#F54343" stroke-width="5.6" stroke-linecap="round"/><line x1="944.5" y1="866.56" x2="1007.2" y2="866.56" stroke="#33AF6A" stroke-width="5.6" stroke-linecap="round"/><line x1="944.5" y1="914.99" x2="1007.2" y2="914.99" stroke="#B077E2" stroke-width="5.6" stroke-linecap="round"/><line x1="944.5" y1="963.42" x2="1007.2" y2="963.42" stroke="#1A70E0" stroke-width="5.6" stroke-linecap="round"/><rect x="83.1" y="8.7" width="759.8" height="7.7" fill="#000"/><rect x="83.1" y="606.5" width="759.8" height="6.9" fill="#000"/><rect x="83.1" y="8.7" width="6.6" height="604.7" fill="#000"/><rect x="836.2" y="8.7" width="6.7" height="604.7" fill="#000"/><rect x="924" y="10.1" width="763" height="7" fill="#000"/><rect x="924" y="609.1" width="763" height="7.1" fill="#000"/><rect x="924" y="10.1" width="6.8" height="606.1" fill="#000"/><rect x="1680.2" y="10.1" width="6.8" height="606.1" fill="#000"/><rect x="72.3" y="736.5" width="767.4" height="6.9" fill="#000"/><rect x="72.3" y="1332" width="767.4" height="7" fill="#000"/><rect x="72.3" y="736.5" width="7" height="602.5" fill="#000"/><rect x="832.9" y="736.5" width="6.8" height="602.5" fill="#000"/><rect x="928.9" y="733.7" width="759.1" height="6.6" fill="#000"/><rect x="928.9" y="1322.2" width="759.1" height="7.3" fill="#000"/><rect x="928.9" y="733.7" width="7.2" height="595.8" fill="#000"/><rect x="1681.6" y="733.7" width="6.4" height="595.8" fill="#000"/><rect x="177.43" y="602.8" width="6" height="4.2" fill="#000"/><rect x="271.55" y="602.8" width="6" height="4.2" fill="#000"/><rect x="365.68" y="602.8" width="6" height="4.2" fill="#000"/><rect x="459.8" y="602.8" width="6" height="4.2" fill="#000"/><rect x="553.92" y="602.8" width="6" height="4.2" fill="#000"/><rect x="648.05" y="602.8" width="6" height="4.2" fill="#000"/><rect x="742.17" y="602.8" width="6" height="4.2" fill="#000"/><rect x="1007.64" y="606.3" width="7.4" height="3.3" fill="#000"/><rect x="1091.69" y="606.3" width="7.4" height="3.3" fill="#000"/><rect x="1175.73" y="606.3" width="7.4" height="3.3" fill="#000"/><rect x="1259.78" y="606.3" width="7.4" height="3.3" fill="#000"/><rect x="1343.82" y="606.3" width="7.4" height="3.3" fill="#000"/><rect x="1427.87" y="606.3" width="7.4" height="3.3" fill="#000"/><rect x="1511.91" y="606.3" width="7.4" height="3.3" fill="#000"/><rect x="1595.96" y="606.3" width="7.4" height="3.3" fill="#000"/><rect x="181.23" y="1324.7" width="6.6" height="7.8" fill="#000"/><rect x="289.86" y="1324.7" width="6.6" height="7.8" fill="#000"/><rect x="398.49" y="1324.7" width="6.6" height="7.8" fill="#000"/><rect x="507.11" y="1324.7" width="6.6" height="7.8" fill="#000"/><rect x="615.74" y="1324.7" width="6.6" height="7.8" fill="#000"/><rect x="724.37" y="1324.7" width="6.6" height="7.8" fill="#000"/><rect x="1079.58" y="1319.2" width="7" height="3.5" fill="#000"/><rect x="1230.06" y="1319.2" width="7" height="3.5" fill="#000"/><rect x="1380.54" y="1319.2" width="7" height="3.5" fill="#000"/><rect x="1531.02" y="1319.2" width="7" height="3.5" fill="#000"/><g font-family="'Liberation Serif', 'Times New Roman', serif" font-weight="bold" font-size="100" fill="#000"><text transform="matrix(0.64630 0.00000 0.00000 0.62000 8.415 44.180)">(a)</text><text transform="matrix(0.64737 0.00000 0.00000 0.61333 844.111 48.120)">(b)</text><text transform="matrix(0.64660 0.00000 0.00000 0.61333 -0.086 779.220)">(c)</text><text transform="matrix(0.64211 0.00000 0.00000 0.61556 846.332 780.473)">(d)</text><text transform="matrix(0.44356 0.00000 0.00000 0.44356 267.413 708.500)">Binding Energy (eV)</text><text transform="matrix(0.44686 0.00000 0.00000 0.44686 1108.906 710.000)">Binding Energy (eV)</text><text transform="matrix(0.44914 0.00000 0.00000 0.44914 258.302 1424.200)">Binding Energy (eV)</text><text transform="matrix(0.44413 0.00000 0.00000 0.44413 1112.663 1416.741)">Binding Energy (eV)</text><text transform="matrix(0.00000 -0.43964 0.43964 0.00000 65.649 434.370)">Intensity (a.u.)</text><text transform="matrix(0.00000 -0.43932 0.43932 0.00000 901.056 437.068)">Intensity (a.u.)</text><text transform="matrix(0.00000 -0.43770 0.43770 0.00000 56.895 1161.064)">Intensity (a.u.)</text><text transform="matrix(0.00000 -0.43236 0.43236 0.00000 908.023 1153.298)">Intensity (a.u.)</text><text transform="matrix(0.40000 0.00000 0.00000 0.40000 168.000 782.600)">Raw</text><text transform="matrix(0.40602 0.00000 0.00000 0.40602 167.988 832.100)">Fitted curve</text><text transform="matrix(0.41142 0.00000 0.00000 0.41142 166.593 881.835)">C-C/C=C</text><text transform="matrix(0.41272 0.00000 0.00000 0.41272 166.736 930.799)">C-O</text><text transform="matrix(0.41624 0.00000 0.00000 0.41624 166.519 979.888)">C=O</text><text transform="matrix(0.40598 0.00000 0.00000 0.40598 168.037 1027.997)">Baseline</text><text transform="matrix(0.39635 0.00000 0.00000 0.39635 1024.007 781.500)">Raw</text><text transform="matrix(0.40097 0.00000 0.00000 0.40097 1024.048 830.167)">Fitted curve</text><text transform="matrix(0.40519 0.00000 0.00000 0.40519 1022.524 878.037)">Sn-O</text><text transform="matrix(0.41079 0.00000 0.00000 0.41079 1022.745 925.660)">Sn-O-C</text><text transform="matrix(0.39972 0.00000 0.00000 0.39972 1023.952 974.810)">Baseline</text><text transform="matrix(0.40085 0.00000 0.00000 0.40085 1566.096 61.772)">Sn 3d</text><text transform="matrix(0.40782 0.00000 0.00000 0.40782 739.361 788.600)">C 1s</text><text transform="matrix(0.40707 0.00000 0.00000 0.40707 1588.665 785.600)">O 1s</text><text transform="matrix(0.39820 0.00000 0.00000 0.40448 1079.202 255.441)">495.4</text><text transform="matrix(0.40455 0.00000 0.00000 0.40299 1436.096 131.294)">486.9</text><text transform="matrix(0.00000 -0.35837 0.38837 0.00000 133.844 366.942)">Sn 3p</text><text transform="matrix(0.00000 -0.35739 0.37463 0.00000 145.775 280.409)">1/2</text><text transform="matrix(0.00000 -0.35622 0.37558 0.00000 186.213 341.681)">Sn 3p</text><text transform="matrix(0.00000 -0.35546 0.38955 0.00000 197.271 256.372)">3/2</text><text transform="matrix(0.00000 -0.37446 0.37794 0.00000 348.294 127.522)">O 1s</text><text transform="matrix(0.00000 -0.36907 0.35211 0.00000 387.296 157.595)">Sn 3d</text><text transform="matrix(0.00000 -0.34202 0.37313 0.00000 399.054 69.918)">3/2</text><text transform="matrix(0.00000 -0.37161 0.36056 0.00000 420.079 192.858)">Sn 3d</text><text transform="matrix(0.00000 -0.36807 0.37879 0.00000 431.821 104.672)">5/2</text><text transform="matrix(0.00000 -0.37709 0.40597 0.00000 596.394 200.685)">C 1s</text><text transform="matrix(0.00000 -0.36697 0.37463 0.00000 718.401 485.435)">Sn 4s</text><text transform="matrix(0.00000 -0.36567 0.38372 0.00000 766.742 493.127)">Sn 4p</text><text transform="matrix(0.00000 -0.36653 0.36056 0.00000 827.779 479.782)">Sn 4d</text><text transform="matrix(0.45385 0.00000 0.00000 0.45373 52.288 655.993)">800</text><text transform="matrix(0.45385 0.00000 0.00000 0.45373 145.858 655.993)">700</text><text transform="matrix(0.45385 0.00000 0.00000 0.45373 240.788 655.993)">600</text><text transform="matrix(0.45385 0.00000 0.00000 0.45373 334.312 655.993)">500</text><text transform="matrix(0.45385 0.00000 0.00000 0.45373 429.242 655.993)">400</text><text transform="matrix(0.45385 0.00000 0.00000 0.45373 522.812 655.993)">300</text><text transform="matrix(0.45385 0.00000 0.00000 0.45373 617.062 655.993)">200</text><text transform="matrix(0.45385 0.00000 0.00000 0.45373 710.404 655.766)">100</text><text transform="matrix(0.45385 0.00000 0.00000 0.45373 827.754 655.993)">0</text><text transform="matrix(0.44041 0.00000 0.00000 0.45373 894.069 658.393)">500</text><text transform="matrix(0.44041 0.00000 0.00000 0.45373 979.098 658.393)">498</text><text transform="matrix(0.44041 0.00000 0.00000 0.45373 1063.187 658.393)">496</text><text transform="matrix(0.44041 0.00000 0.00000 0.45373 1146.556 658.393)">494</text><text transform="matrix(0.44041 0.00000 0.00000 0.45373 1231.086 658.393)">492</text><text transform="matrix(0.44041 0.00000 0.00000 0.45373 1314.674 658.393)">490</text><text transform="matrix(0.44041 0.00000 0.00000 0.45373 1398.543 658.393)">488</text><text transform="matrix(0.44041 0.00000 0.00000 0.45373 1482.632 658.393)">486</text><text transform="matrix(0.44041 0.00000 0.00000 0.45373 1567.000 658.393)">484</text><text transform="matrix(0.44041 0.00000 0.00000 0.45373 1651.530 658.393)">482</text><text transform="matrix(0.44930 0.00000 0.00000 0.43731 41.654 1380.175)">294</text><text transform="matrix(0.44930 0.00000 0.00000 0.43731 150.860 1380.175)">292</text><text transform="matrix(0.44930 0.00000 0.00000 0.43731 259.617 1380.175)">290</text><text transform="matrix(0.44930 0.00000 0.00000 0.43731 367.864 1379.725)">288</text><text transform="matrix(0.44930 0.00000 0.00000 0.43731 476.407 1380.175)">286</text><text transform="matrix(0.44930 0.00000 0.00000 0.43731 584.939 1380.175)">284</text><text transform="matrix(0.44930 0.00000 0.00000 0.43731 693.646 1380.175)">282</text><text transform="matrix(0.44930 0.00000 0.00000 0.43731 802.903 1380.175)">280</text><text transform="matrix(0.45385 0.00000 0.00000 0.43731 898.435 1372.375)">536</text><text transform="matrix(0.45385 0.00000 0.00000 0.43731 1048.668 1372.375)">534</text><text transform="matrix(0.45385 0.00000 0.00000 0.43731 1199.582 1372.375)">532</text><text transform="matrix(0.45385 0.00000 0.00000 0.43731 1350.042 1372.375)">530</text><text transform="matrix(0.45385 0.00000 0.00000 0.43731 1500.275 1372.375)">528</text><text transform="matrix(0.45385 0.00000 0.00000 0.43731 1650.735 1372.375)">526</text></g></svg></body></html>
